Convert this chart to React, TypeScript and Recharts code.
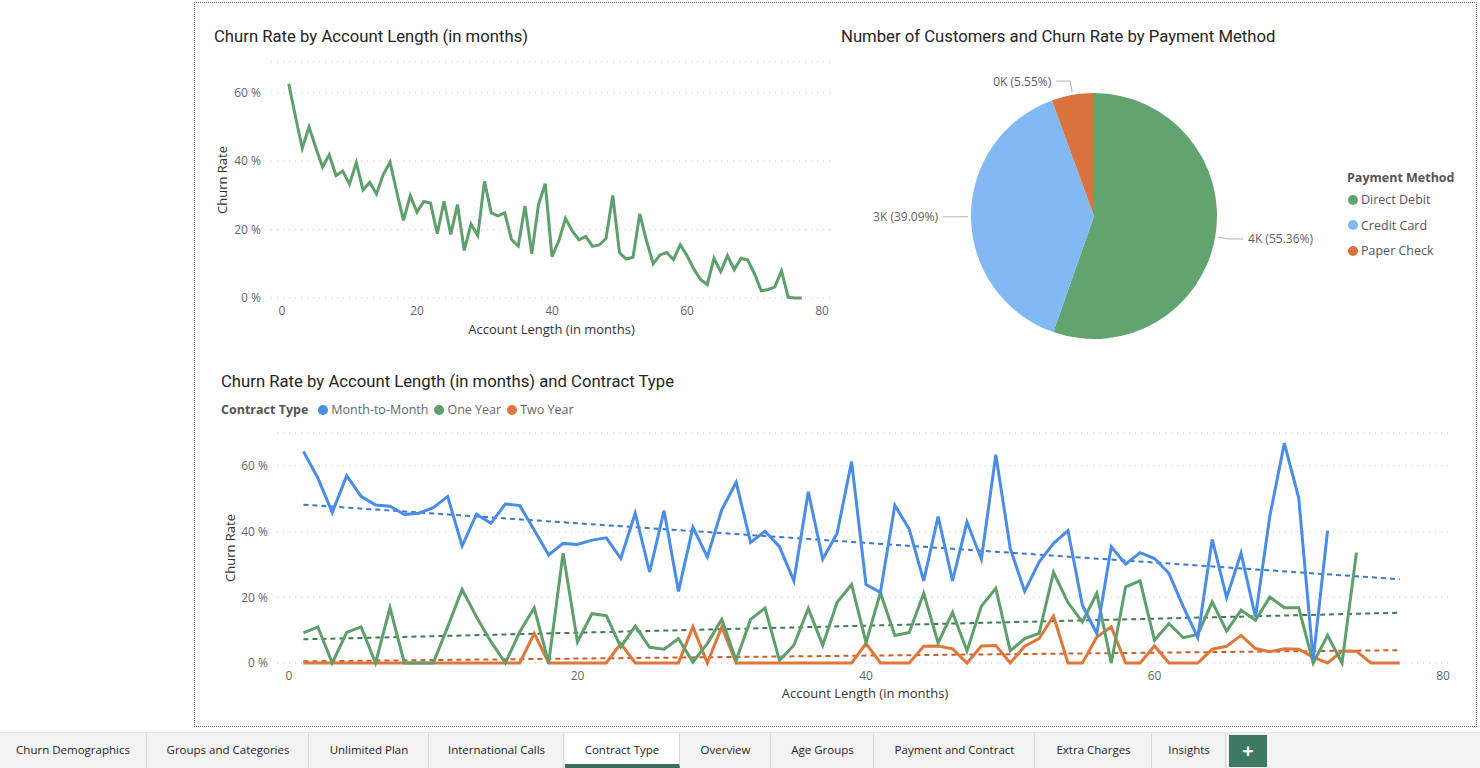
import { LineChart, Line, XAxis, YAxis, CartesianGrid, PieChart, Pie, Cell } from 'recharts';

// account length in months (x values)
const months = Array.from({ length: 77 }, (_, i) => i + 1);

// overall churn rate (%) by account length
const overallChurn = [
    62.6, 53, 43.8, 50, 44, 38.3, 41.9, 35.8, 37.1, 33.3, 39.6, 31.6, 33.8, 30.4, 36.1, 39.7, 31, 22.7, 29.9, 25.1,
    28.2, 27.8, 18.8, 28.3, 18.6, 27.3, 13.9, 21.6, 18.3, 34.1, 24.9, 24.0, 24.9, 17.1, 15.2, 26.9, 12.9, 27.3, 33.4, 12.1,
    16.7, 23.3, 19.6, 17, 18, 15.1, 15.5, 17.4, 30, 13.2, 11.4, 11.9, 24.6, 16.7, 10, 12.6, 13.3, 11.2, 15.6, 12.4,
    8.5, 5.4, 3.9, 11.6, 7.7, 12.4, 8.3, 11.6, 11.1, 7.1, 2.1, 2.5, 3.2, 7.9, 0.2, 0, 0
];

// churn rate (%) by contract type
const monthToMonth = [
    64.4, 56.3, 45.8, 57, 50.7, 48.1, 47.7, 45.2, 45.6, 47.3, 50.7, 35.6, 45.3, 42.5, 48.4, 47.9, 40.5, 32.9, 36.4, 36.1,
    37.4, 38.1, 31.8, 45.6, 27.7, 46.4, 21.8, 41.3, 32.3, 46.6, 55, 36.7, 40.1, 35.4, 25, 52.1, 31.6, 39.5, 61.3, 23.9,
    21.5, 48, 40.7, 25, 44.6, 25, 42.9, 31.6, 63.4, 34.9, 21.8, 30.7, 36.4, 40.3, 17.6, 9, 35.4, 30.1, 33.6, 31.8,
    27.3, 17.1, 7.7, 37.6, 19.9, 33.4, 14, 44.8, 66.9, 50.2, 1, 40.3
];
const oneYear = [
    9.2, 11, 0, 9.3, 11, 0, 16.8, 0, 0, 0, 11, 22.4, 14, 6.5, 0, 9.5, 16.8, 0, 33.4, 6.4,
    15, 14.4, 4.9, 11.2, 4.8, 4.2, 7.4, 0.3, 5.9, 13.3, 0.8, 13.3, 16.7, 0.8, 5.4, 16.6, 5.4, 18.5, 23.9, 6.2,
    21.4, 8.4, 9.3, 21.2, 6.1, 15.4, 3.7, 17.3, 22.7, 3.7, 7.4, 9, 27.6, 18.4, 12.5, 21.2, 0, 23.2, 25, 6.9,
    12, 7.7, 8.7, 18.6, 9.7, 16.1, 13, 20.1, 16.8, 16.8, 0, 8.4, 0, 33.6
];
const twoYear = [
    0, 0, 0, 0, 0, 0, 0, 0, 0, 0, 0, 0, 0, 0, 0, 0, 9, 0, 0, 0,
    0, 0, 5.9, 0, 0, 0, 0, 11, 0, 11, 0, 0, 0, 0, 0, 0, 0, 0, 0, 5.9,
    0, 0, 0, 5.1, 5.2, 4.3, 0, 5.2, 5.3, 0, 5.1, 7.4, 14.3, 0, 0, 7.9, 11, 0, 0, 5.2,
    0, 0, 0, 4.2, 5.1, 8.4, 4.4, 3.4, 4.3, 4.2, 1.8, 0, 3.6, 3.6, 0, 0, 0
];

// trend line end points (first and last month)
const trendMonths = [1, 77];
const monthToMonthTrend = [48.2, 25.5];
const oneYearTrend = [7.2, 15.3];
const twoYearTrend = [0.5, 3.9];

const xTicks = [0, 20, 40, 60, 80];
const yTicks = [0, 20, 40, 60];

// payment method split
const paymentMethods = ['Direct Debit', 'Credit Card', 'Paper Check'];
const paymentCustomers = [3899, 2753, 391];

const contractTypes = ['Month-to-Month', 'One Year', 'Two Year'];
const contractColors = ['#4a8de6', '#5e9f6c', '#e0763a'];
const trendColors = ['#3c78cc', '#3f7c55', '#c9602c'];
const paymentColors = ['#62a46f', '#82b9f5', '#d9733e'];

const tabs = ['Churn Demographics', 'Groups and Categories', 'Unlimited Plan', 'International Calls', 'Contract Type',
    'Overview', 'Age Groups', 'Payment and Contract', 'Extra Charges', 'Insights'];
const tabWidths = [148, 162, 120, 135, 116, 91, 103, 161, 117, 74];
const activeTab = 'Contract Type';

const overallData = months.map((m, i) => ({ month: m, churn: overallChurn[i] }));

const contractData = months.map((m, i) => {
    const t = trendMonths.indexOf(m);
    return {
        month: m,
        mtm: monthToMonth[i] ?? null,
        one: oneYear[i] ?? null,
        two: twoYear[i] ?? null,
        mtmTrend: t >= 0 ? monthToMonthTrend[t] : null,
        oneTrend: t >= 0 ? oneYearTrend[t] : null,
        twoTrend: t >= 0 ? twoYearTrend[t] : null
    };
});

const paymentData = paymentMethods.map((name, i) => ({ name, value: paymentCustomers[i] }));

const uiFont = "'Open Sans', 'Noto Sans', sans-serif";
const titleFont = "Roboto, 'DejaVu Sans', sans-serif";
const tickStyle = { fontSize: 12, fill: '#666666', fontFamily: uiFont };
const axisTitle = { fill: '#333333', fontSize: 13, fontFamily: uiFont };

const RADIAN = Math.PI / 180;

function renderPieLabel(props: any) {
    const { cx, cy, midAngle, outerRadius, value, percent } = props;
    const cos = Math.cos(-midAngle * RADIAN);
    const sin = Math.sin(-midAngle * RADIAN);
    const sx = cx + (outerRadius + 3) * cos;
    const sy = cy + (outerRadius + 3) * sin;
    const mx = cx + (outerRadius + 14) * cos;
    const my = cy + (outerRadius + 14) * sin;
    const dir = cos >= 0 ? 1 : -1;
    const ex = mx + dir * 14;
    const text = `${Math.round(value / 1000)}K (${(percent * 100).toFixed(2)}%)`;
    return (
        <g>
            <path d={`M${sx},${sy}L${mx},${my}L${ex},${my}`} stroke="#b3b3b3" fill="none" />
            <text
                x={ex + dir * 5}
                y={my}
                textAnchor={dir > 0 ? 'start' : 'end'}
                dominantBaseline="central"
                fontSize={12}
                fontFamily={uiFont}
                fill="#605e5c"
            >
                {text}
            </text>
        </g>
    );
}

const title = (left: number, top: number, text: string) => (
    <div
        style={{
            position: 'absolute', left, top, fontFamily: titleFont, fontSize: 16.7,
            color: '#252423', lineHeight: '20px', whiteSpace: 'nowrap'
        }}
    >
        {text}
    </div>
);

const dot = (color: string) => (
    <span
        style={{
            display: 'inline-block', width: 10, height: 10, borderRadius: 5,
            background: color, marginRight: 3
        }}
    />
);

export default function App() {
    let tabX = 0;
    return (
        <div
            style={{
                position: 'absolute', left: 0, top: 0, width: 1480, height: 768,
                background: '#ffffff', overflow: 'hidden', fontFamily: uiFont
            }}
        >
            <div
                style={{
                    position: 'absolute', left: 194, top: 2, width: 1281, height: 723,
                    border: '1px dotted #666666'
                }}
            />

            {title(214, 27, 'Churn Rate by Account Length (in months)')}
            <div style={{ position: 'absolute', left: 170, top: 55 }}>
                <LineChart width={675} height={308} data={overallData} margin={{ top: 7, right: 13, left: 3, bottom: 3 }}>
                    <CartesianGrid vertical={false} strokeDasharray="1 5" stroke="#c8c6c4" />
                    <XAxis
                        type="number"
                        dataKey="month"
                        domain={[0, 80]}
                        ticks={xTicks}
                        padding={{ left: 11, right: 10 }}
                        axisLine={false}
                        tickLine={false}
                        tick={tickStyle}
                        height={62}
                        label={{ value: 'Account Length (in months)', position: 'center', ...axisTitle }}
                    />
                    <YAxis
                        domain={[0, 69]}
                        ticks={yTicks}
                        tickFormatter={(v) => `${v} %`}
                        axisLine={false}
                        tickLine={false}
                        tickMargin={4}
                        tick={tickStyle}
                        width={98}
                        label={{ value: 'Churn Rate', angle: -90, position: 'center', ...axisTitle }}
                    />
                    <Line
                        type="linear"
                        dataKey="churn"
                        stroke="#5e9f6c"
                        strokeWidth={3}
                        dot={false}
                        isAnimationActive={false}
                    />
                </LineChart>
            </div>

            {title(841, 27, 'Number of Customers and Churn Rate by Payment Method')}
            <div style={{ position: 'absolute', left: 840, top: 60 }}>
                <PieChart width={500} height={300}>
                    <Pie
                        data={paymentData}
                        dataKey="value"
                        nameKey="name"
                        cx={249}
                        cy={151}
                        outerRadius={123}
                        startAngle={90}
                        endAngle={-270}
                        stroke="none"
                        label={renderPieLabel}
                        labelLine={false}
                        isAnimationActive={false}
                    >
                        {paymentData.map((d, i) => (
                            <Cell key={d.name} fill={paymentColors[i]} />
                        ))}
                    </Pie>
                </PieChart>
            </div>
            <div style={{ position: 'absolute', left: 1347, top: 168, fontSize: 12.5, color: '#555555' }}>
                <div style={{ fontWeight: 700, height: 19, lineHeight: '19px' }}>Payment Method</div>
                {paymentMethods.map((name, i) => (
                    <div key={name} style={{ display: 'flex', alignItems: 'center', height: 25.5, paddingLeft: 1 }}>
                        {dot(paymentColors[i])}
                        <span>{name}</span>
                    </div>
                ))}
            </div>

            {title(221, 372, 'Churn Rate by Account Length (in months) and Contract Type')}
            <div
                style={{
                    position: 'absolute', left: 221, top: 401, display: 'flex', alignItems: 'center',
                    fontSize: 12.5, color: '#666666', lineHeight: '18px', whiteSpace: 'nowrap'
                }}
            >
                <span style={{ fontWeight: 700, color: '#555555', marginRight: 10 }}>Contract Type</span>
                {contractTypes.map((name, i) => (
                    <span key={name} style={{ display: 'flex', alignItems: 'center', marginRight: 6 }}>
                        {dot(contractColors[i])}
                        {name}
                    </span>
                ))}
            </div>
            <div style={{ position: 'absolute', left: 170, top: 420 }}>
                <LineChart width={1300} height={305} data={contractData} margin={{ top: 13, right: 17, left: 13, bottom: 2 }}>
                    <CartesianGrid vertical={false} strokeDasharray="1 5" stroke="#c8c6c4" />
                    <XAxis
                        type="number"
                        dataKey="month"
                        domain={[0, 80]}
                        ticks={xTicks}
                        padding={{ left: 12, right: 10 }}
                        axisLine={false}
                        tickLine={false}
                        tick={tickStyle}
                        height={60}
                        label={{ value: 'Account Length (in months)', position: 'center', ...axisTitle }}
                    />
                    <YAxis
                        domain={[0, 70]}
                        ticks={yTicks}
                        tickFormatter={(v) => `${v} %`}
                        axisLine={false}
                        tickLine={false}
                        tickMargin={3}
                        tick={tickStyle}
                        width={94}
                        label={{ value: 'Churn Rate', angle: -90, position: 'center', ...axisTitle }}
                    />
                    <Line type="linear" dataKey="mtmTrend" stroke={trendColors[0]} strokeWidth={2}
                        strokeDasharray="5 4" dot={false} connectNulls isAnimationActive={false} />
                    <Line type="linear" dataKey="oneTrend" stroke={trendColors[1]} strokeWidth={2}
                        strokeDasharray="5 4" dot={false} connectNulls isAnimationActive={false} />
                    <Line type="linear" dataKey="twoTrend" stroke={trendColors[2]} strokeWidth={2}
                        strokeDasharray="5 4" dot={false} connectNulls isAnimationActive={false} />
                    <Line type="linear" dataKey="two" name="Two Year" stroke={contractColors[2]} strokeWidth={3}
                        dot={false} isAnimationActive={false} />
                    <Line type="linear" dataKey="one" name="One Year" stroke={contractColors[1]} strokeWidth={3}
                        dot={false} isAnimationActive={false} />
                    <Line type="linear" dataKey="mtm" name="Month-to-Month" stroke={contractColors[0]} strokeWidth={3}
                        dot={false} isAnimationActive={false} />
                </LineChart>
            </div>

            <div
                style={{
                    position: 'absolute', left: 0, top: 732, width: 1480, height: 36,
                    background: '#f3f3f3', borderTop: '1px solid #e6e6e6'
                }}
            >
                {tabs.map((name, i) => {
                    const left = tabX;
                    tabX += tabWidths[i];
                    const active = name === activeTab;
                    return (
                        <div
                            key={name}
                            style={{
                                position: 'absolute', left, top: 0, width: tabWidths[i] - 1, height: 35,
                                borderRight: '1px solid #d6d6d6', background: active ? '#ffffff' : 'transparent',
                                fontSize: 11.5, color: '#252423', textAlign: 'center', lineHeight: '34px',
                                boxSizing: 'border-box', borderBottom: active ? '4px solid #3c6e5c' : 'none'
                            }}
                        >
                            {name}
                        </div>
                    );
                })}
                <div
                    style={{
                        position: 'absolute', left: 1229, top: 2, width: 38, height: 32, background: '#3e7a63',
                        color: '#ffffff', fontSize: 20, fontWeight: 700, textAlign: 'center', lineHeight: '31px'
                    }}
                >
                    +
                </div>
            </div>
        </div>
    );
}
